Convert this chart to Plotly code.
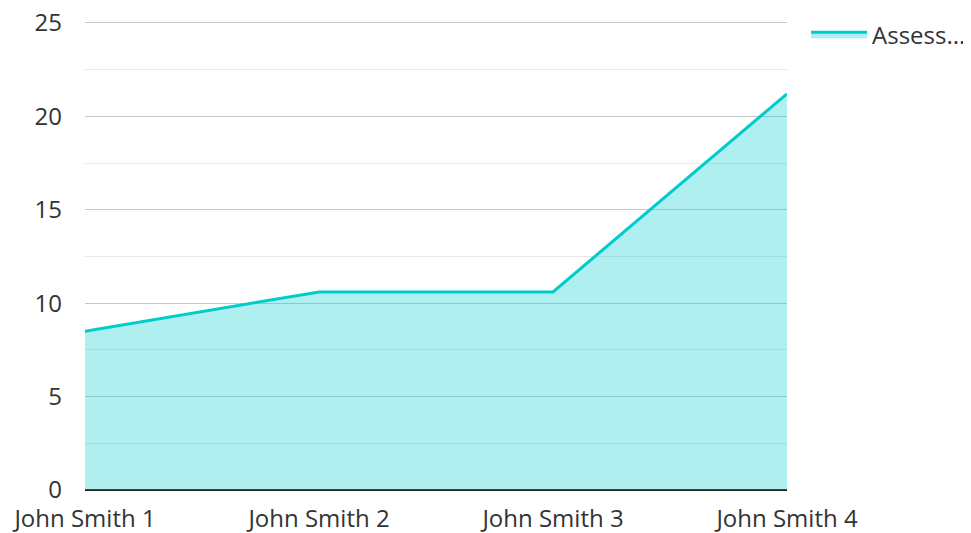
import plotly.graph_objects as go

categories = ["John Smith 1", "John Smith 2", "John Smith 3", "John Smith 4"]
values = [8.5, 10.6, 10.6, 21.2]
series_name = "Assess..."
y_ticks = [0, 5, 10, 15, 20, 25]

fig = go.Figure()
fig.add_trace(go.Scatter(
    x=categories, y=values, name=series_name, mode="lines",
    line=dict(color="rgb(0,204,204)", width=3),
    fill="tozeroy", fillcolor="rgba(0,204,204,0.31)",
    showlegend=True,
))

# page body has an 8px default margin, so the figure is sized to fit the window
fig.update_layout(
    width=963, height=525,
    margin=dict(l=77, r=184, t=13, b=43),
    paper_bgcolor="white", plot_bgcolor="white",
    font=dict(family="Open Sans", size=24, color="#333333"),
    showlegend=True,
    legend=dict(xref="container", yref="container", x=0.8287, y=0.992,
                xanchor="left", yanchor="top",
                font=dict(size=24, color="#333333"), itemwidth=56,
                bgcolor="rgba(0,0,0,0)"),
    xaxis=dict(type="category", range=[0, 3], showgrid=False, zeroline=False,
               showline=False, ticks="", tickfont=dict(size=24), automargin=False,
               ticklabelstandoff=12, ticklabeloverflow="allow"),
    yaxis=dict(range=[0, 25.1], tickvals=y_ticks, showgrid=True,
               gridcolor="#c8c8c8", gridwidth=1, zeroline=True,
               zerolinecolor="#222222", zerolinewidth=2, automargin=False,
               ticks="", ticklabelstandoff=22, tickfont=dict(size=24),
               ticklabeloverflow="allow",
               minor=dict(dtick=2.5, showgrid=True, gridcolor="#e8e8e8", gridwidth=1)),
)

fig.write_html("out.html")
